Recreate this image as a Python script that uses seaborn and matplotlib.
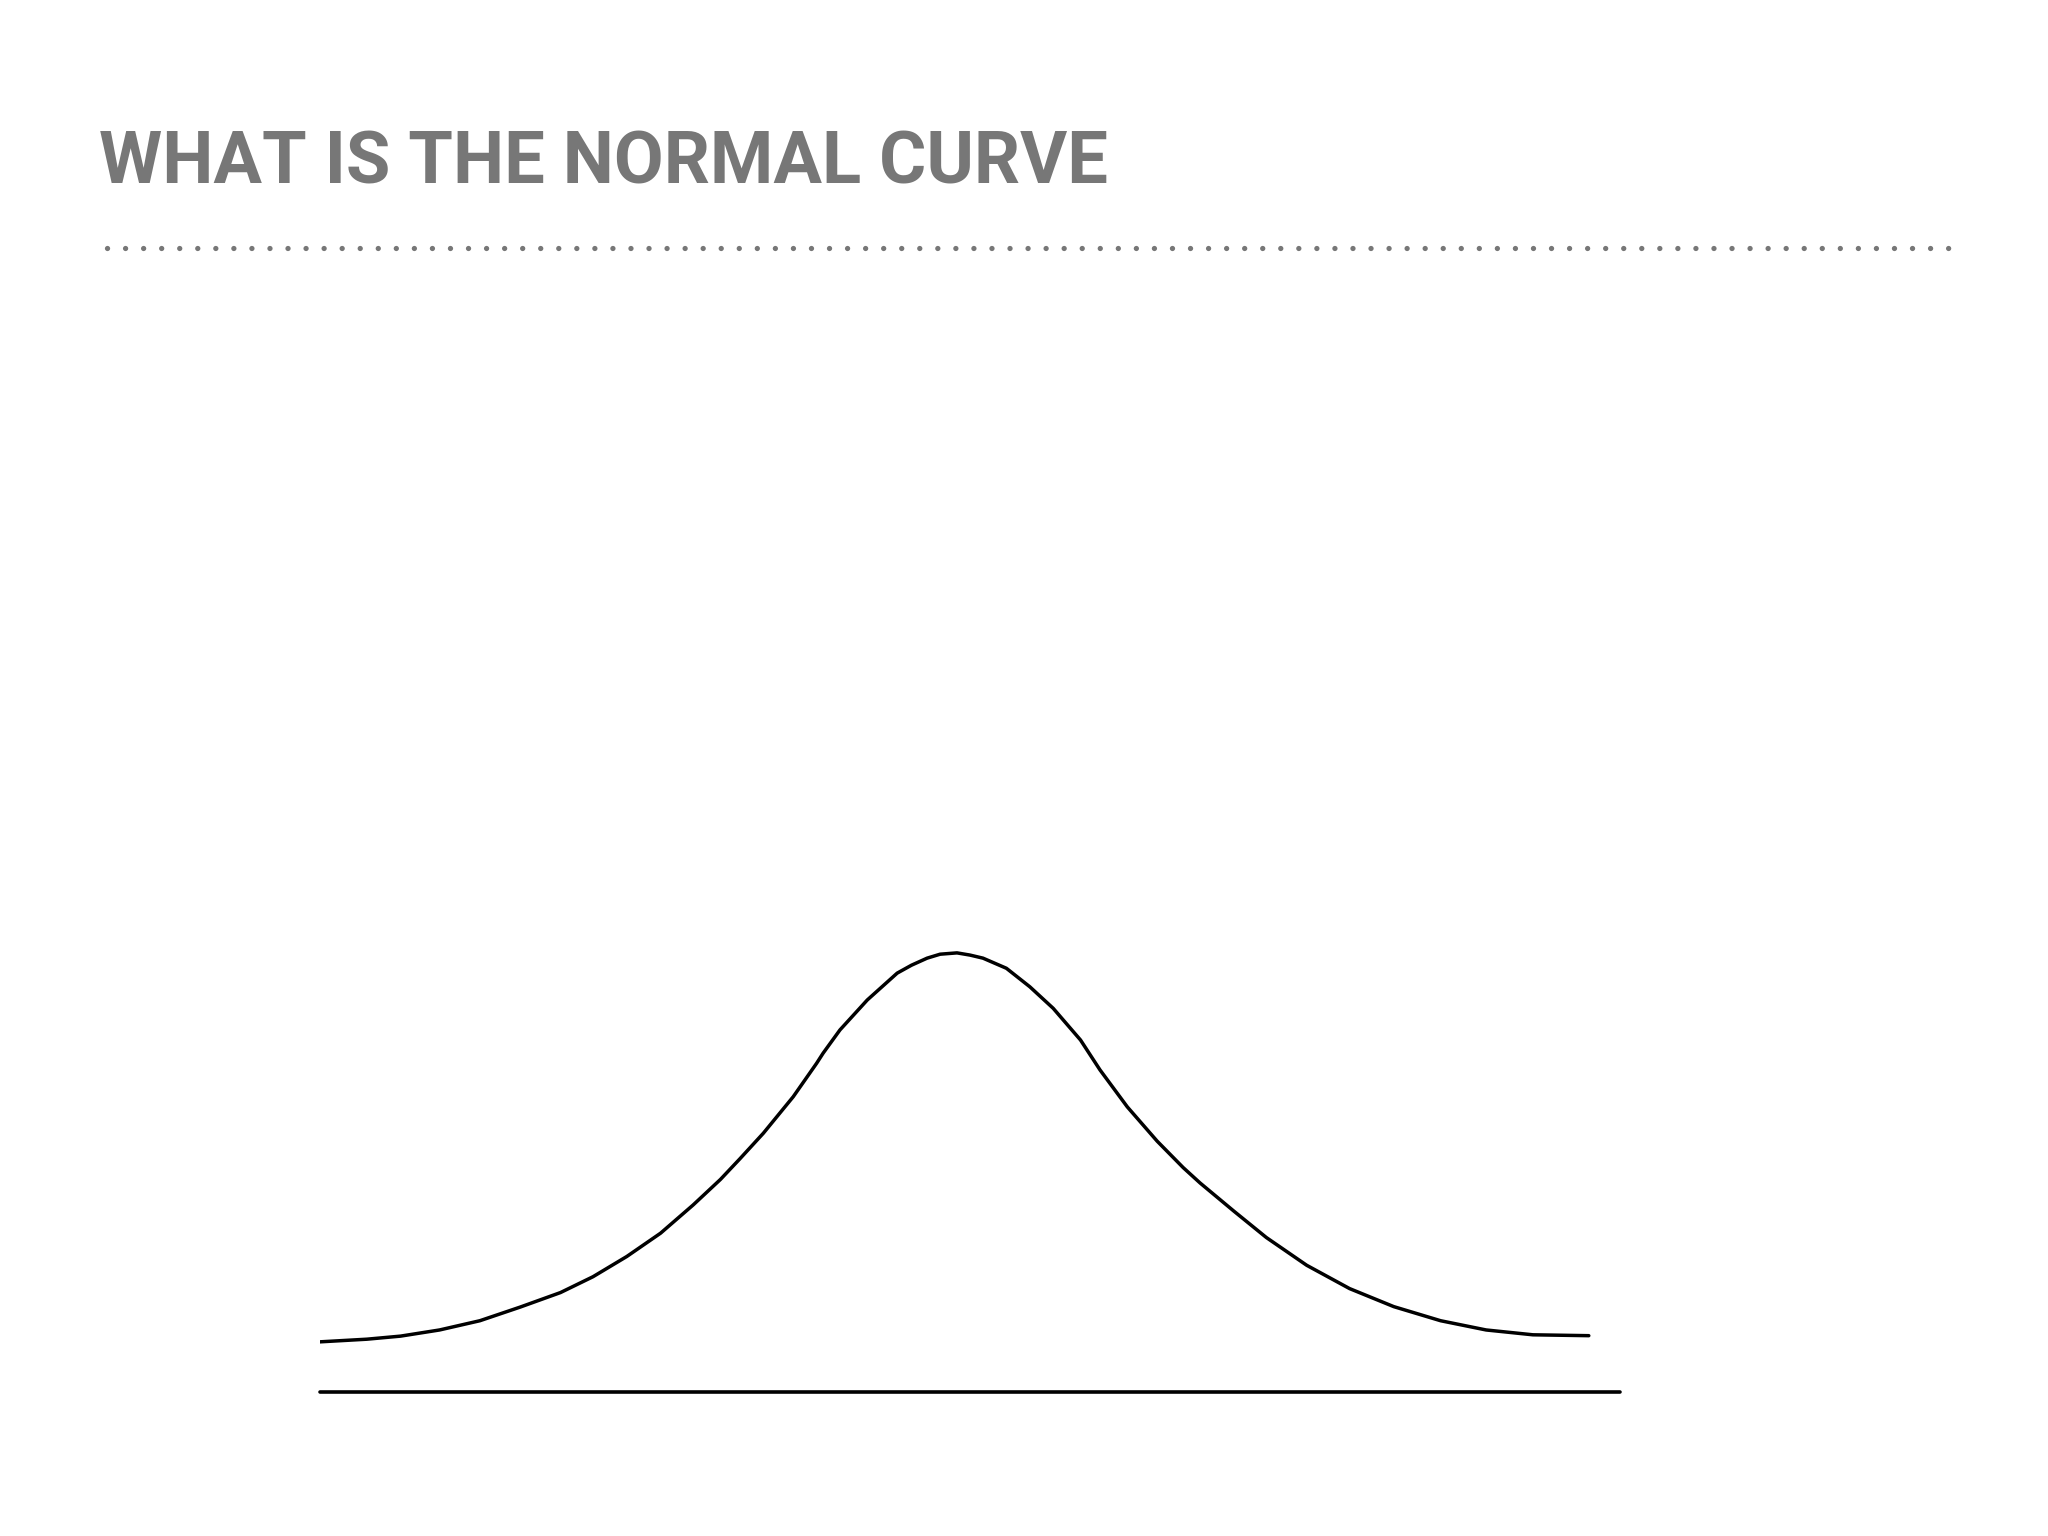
import matplotlib
matplotlib.use("Agg")
import matplotlib.pyplot as plt
import seaborn as sns
import pandas as pd

# curve: score (0-100 along the base line), height (peak ~100)
score = [0.0, 3.6, 6.2, 9.2, 12.3, 15.4, 18.5, 21.0, 23.6, 26.2, 28.7, 30.8, 32.3, 34.1,
         36.4, 38.2, 38.7, 40.0, 42.1, 44.4, 45.5, 46.7, 47.7, 49.0, 50.0, 51.0, 52.8, 54.6,
         56.4, 58.5, 60.0, 62.1, 64.4, 66.4, 67.7, 70.3, 72.8, 75.9, 79.2, 82.6, 86.2, 89.7,
         93.3, 97.6]
height = [11.4, 12.0, 12.7, 14.1, 16.2, 19.3, 22.6, 26.2, 30.8, 36.1, 42.5, 48.3, 53.0, 58.8,
          67.1, 74.7, 77.0, 82.3, 89.1, 95.2, 97.0, 98.6, 99.5, 99.8, 99.3, 98.6, 96.3, 92.1,
          87.2, 80.0, 73.2, 64.8, 57.0, 51.0, 47.5, 41.1, 35.1, 28.8, 23.5, 19.4, 16.2, 14.1,
          13.0, 12.8]
title = "WHAT IS THE NORMAL CURVE"

df = pd.DataFrame({"score": score, "height": height})

sns.set_style("white")
plt.rcParams['font.family'] = ['Roboto', 'DejaVu Sans']

fig = plt.figure(figsize=(20.48, 15.36), dpi=100)
fig.patch.set_facecolor("white")

# title and dotted rule
fig.text(99 / 2048, 1 - 183 / 1536, title, fontsize=52, fontweight="bold",
         color="#777777", ha="left", va="baseline")
rule = plt.Line2D([107 / 2048, 1952 / 2048], [1 - 248 / 1536, 1 - 248 / 1536],
                  transform=fig.transFigure, color="#777777", linewidth=3.8,
                  linestyle=(0, (0.01, 3.41)), dash_capstyle="round")
fig.add_artist(rule)

# curve
ax = fig.add_axes([320 / 2048, 144 / 1536, 1300 / 2048, 484 / 1536])
sns.lineplot(data=df, x="score", y="height", ax=ax, sort=False, estimator=None,
             color="black", linewidth=2.5)
ax.axhline(0, color="black", linewidth=2.6, clip_on=False)
ax.set_xlim(0, 100)
ax.set_ylim(0, 110)
ax.set_axis_off()

fig.savefig("out.png", dpi=100, facecolor="white")
